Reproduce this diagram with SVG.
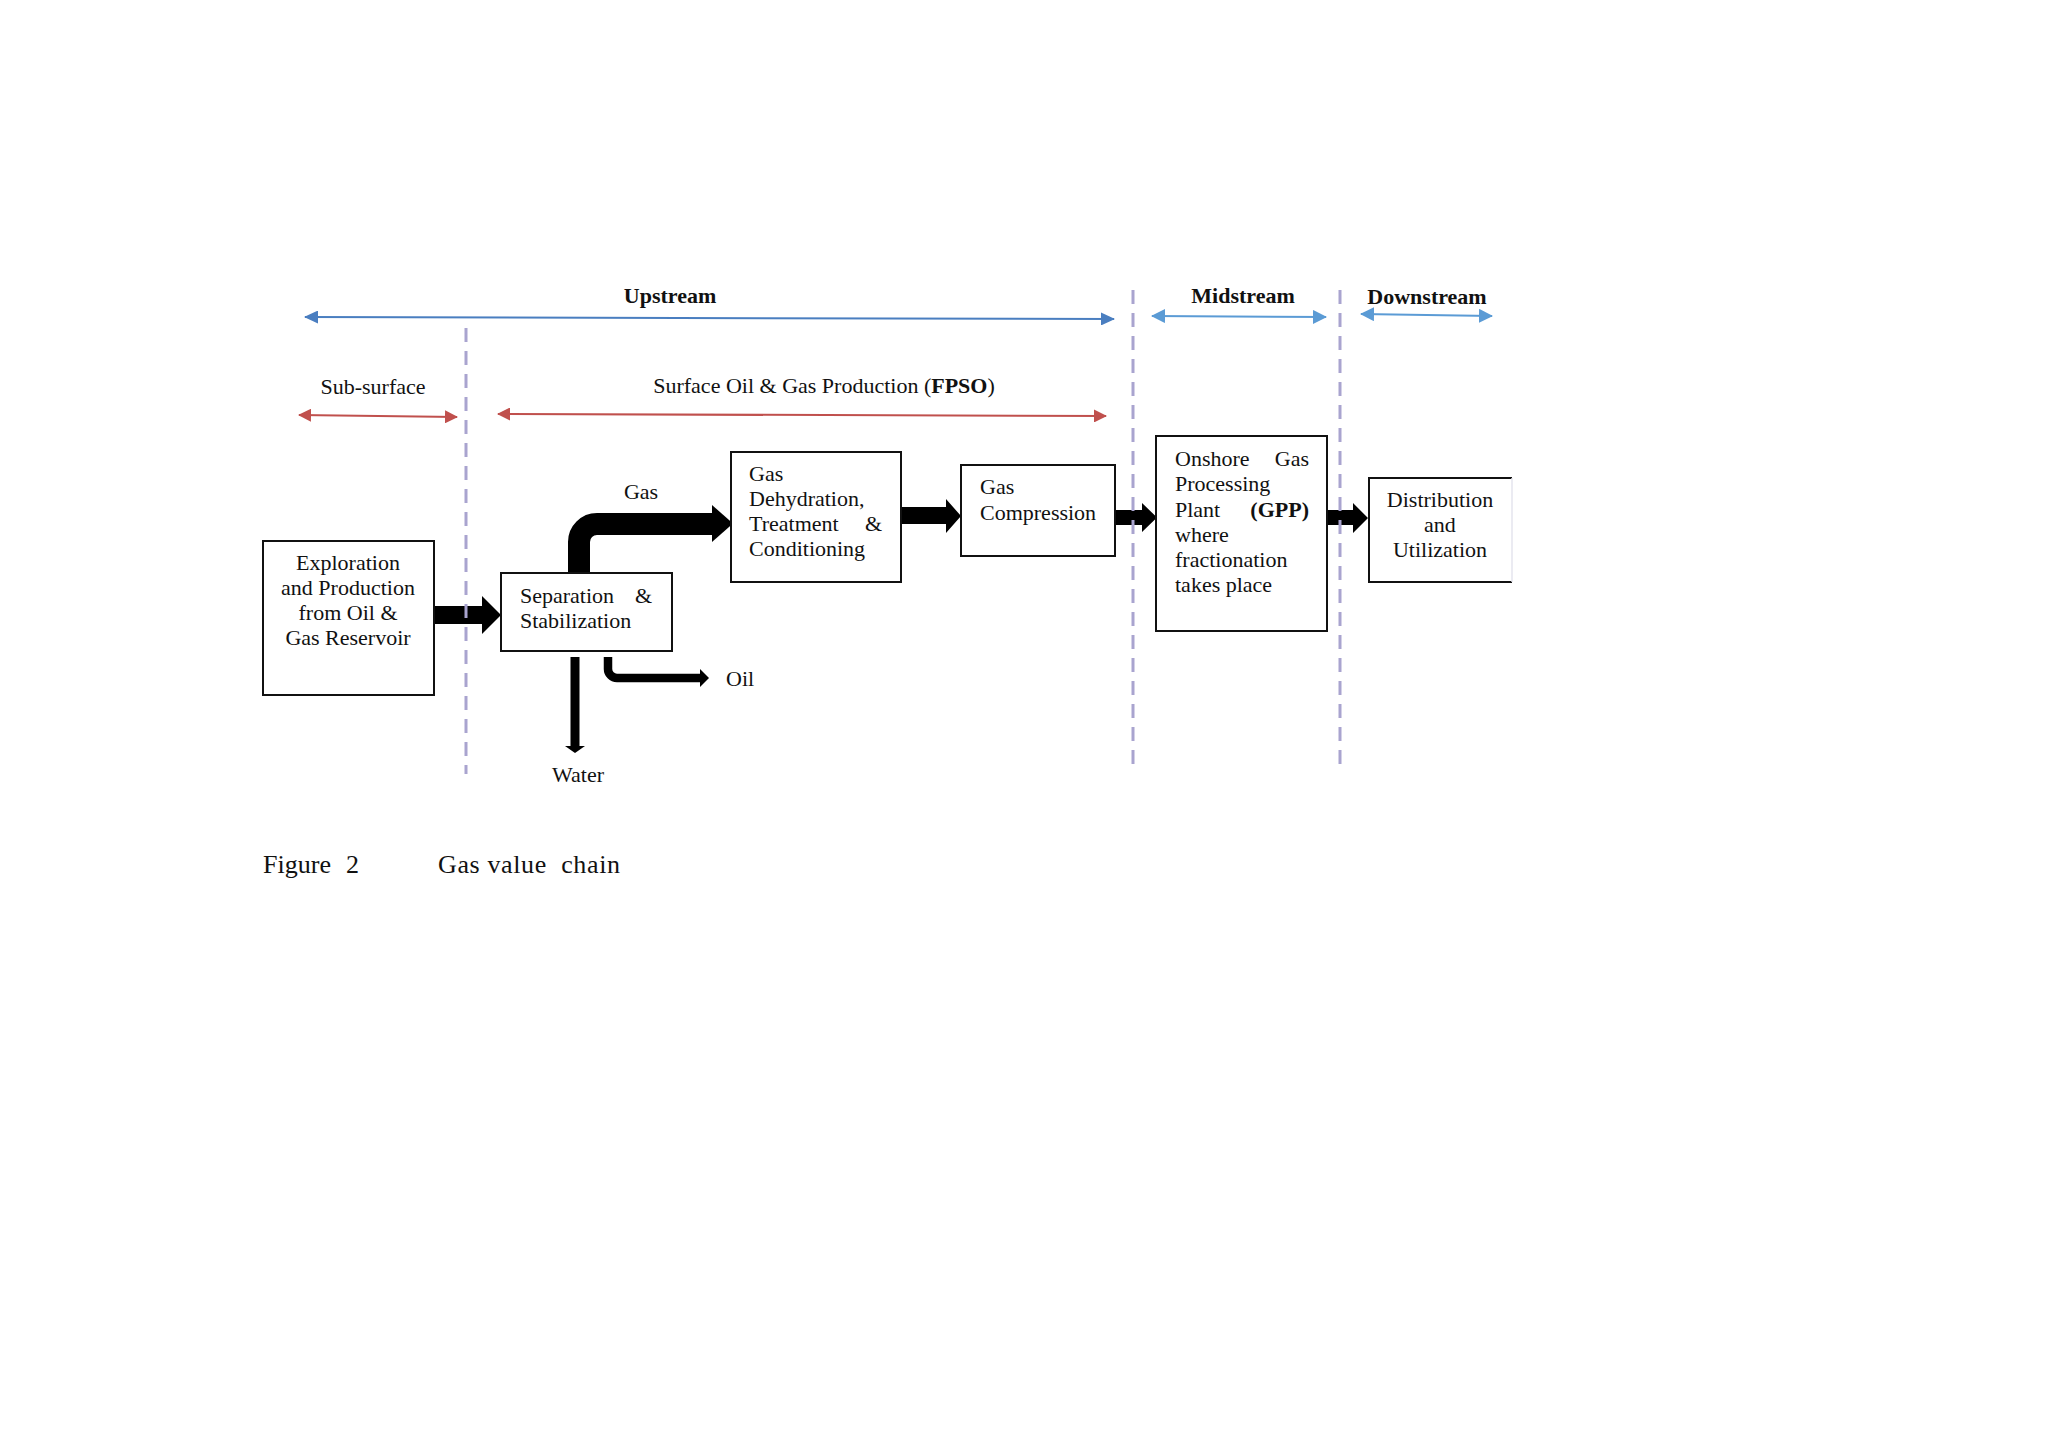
<svg xmlns="http://www.w3.org/2000/svg" width="2048" height="1448" viewBox="0 0 2048 1448">
<defs>
<style>
.t{font-family:"Liberation Serif","Times New Roman",serif;font-size:22px;fill:#111}
.b{font-weight:bold}
.cap{font-size:26px}
.box{fill:#fff;stroke:#111;stroke-width:2}
.blk{fill:#000}
.dash{stroke:#a9a4cf;stroke-width:3;stroke-dasharray:14 9;fill:none}
.blue1{stroke:#4a7ec0;stroke-width:2;fill:none}
.blue2{stroke:#5b9bd5;stroke-width:2;fill:none}
.red{stroke:#c0504d;stroke-width:2;fill:none}
</style>
<marker id="hb1" viewBox="0 0 14 13" refX="13" refY="6.5" markerWidth="14" markerHeight="13" markerUnits="userSpaceOnUse" orient="auto-start-reverse"><path d="M0,0 L14,6.5 L0,13 Z" fill="#4a7ec0"/></marker>
<marker id="hb2" viewBox="0 0 14 14" refX="13" refY="7" markerWidth="14" markerHeight="14" markerUnits="userSpaceOnUse" orient="auto-start-reverse"><path d="M0,0 L14,7 L0,14 Z" fill="#5b9bd5"/></marker>
<marker id="hr" viewBox="0 0 13 13" refX="12" refY="6.5" markerWidth="13" markerHeight="13" markerUnits="userSpaceOnUse" orient="auto-start-reverse"><path d="M0,0 L13,6.5 L0,13 Z" fill="#c0504d"/></marker>
</defs>
<rect width="2048" height="1448" fill="#fff"/>

<g id="stage-labels">
<text class="t b" x="670" y="303" text-anchor="middle">Upstream</text>
<text class="t b" x="1243" y="303" text-anchor="middle">Midstream</text>
<text class="t b" x="1427" y="304" text-anchor="middle">Downstream</text>
<text class="t" x="373" y="394" text-anchor="middle">Sub-surface</text>
<text class="t" x="824" y="393" text-anchor="middle">Surface Oil &amp; Gas Production (<tspan class="b">FPSO</tspan>)</text>
</g>

<g id="range-arrows">
<line class="blue1" x1="305" y1="317" x2="1114" y2="319" marker-start="url(#hb1)" marker-end="url(#hb1)"/>
<line class="blue2" x1="1152" y1="316" x2="1326" y2="317" marker-start="url(#hb2)" marker-end="url(#hb2)"/>
<line class="blue2" x1="1361" y1="314" x2="1492" y2="316" marker-start="url(#hb2)" marker-end="url(#hb2)"/>
<line class="red" x1="299" y1="415" x2="457" y2="417" marker-start="url(#hr)" marker-end="url(#hr)"/>
<line class="red" x1="498" y1="414" x2="1106" y2="416" marker-start="url(#hr)" marker-end="url(#hr)"/>
</g>

<g id="connectors">
<polygon class="blk" points="432,606 482,606 482,596 501,615 482,634 482,624 432,624"/>
<path d="M579,573 V542 A18,18 0 0 1 597,524 H713" stroke="#000" stroke-width="22" fill="none"/>
<polygon class="blk" points="712,505 733,523.5 712,542"/>
<polygon class="blk" points="900,507 946,507 946,499 961,516 946,533 946,524 900,524"/>
<polygon class="blk" points="1115,510 1142,510 1142,503 1157,517.5 1142,532 1142,525 1115,525"/>
<polygon class="blk" points="1327,510 1353,510 1353,503 1368,518 1353,533 1353,525 1327,525"/>
<rect class="blk" x="570.5" y="657" width="9" height="90"/>
<polygon class="blk" points="565,746 585,746 575,753"/>
<path d="M608,657 V669 A9,9 0 0 0 617,678 H701" stroke="#000" stroke-width="8.5" fill="none"/>
<polygon class="blk" points="700,669 709,678 700,687"/>
</g>

<g id="node-exploration">
<rect class="box" x="263" y="541" width="171" height="154"/>
<text class="t" text-anchor="middle" x="348" y="570">Exploration</text>
<text class="t" text-anchor="middle" x="348" y="595">and Production</text>
<text class="t" text-anchor="middle" x="348" y="620">from Oil &amp;</text>
<text class="t" text-anchor="middle" x="348" y="645">Gas Reservoir</text>
</g>

<g id="node-separation">
<rect class="box" x="501" y="573" width="171" height="78"/>
<text class="t" x="520" y="603">Separation</text>
<text class="t" x="652" y="603" text-anchor="end">&amp;</text>
<text class="t" x="520" y="628">Stabilization</text>
</g>

<g id="node-dehydration">
<rect class="box" x="731" y="452" width="170" height="130"/>
<text class="t" x="749" y="481">Gas</text>
<text class="t" x="749" y="506">Dehydration,</text>
<text class="t" x="749" y="531">Treatment</text>
<text class="t" x="882" y="531" text-anchor="end">&amp;</text>
<text class="t" x="749" y="556">Conditioning</text>
</g>

<g id="node-compression">
<rect class="box" x="961" y="465" width="154" height="91"/>
<text class="t" x="980" y="494">Gas</text>
<text class="t" x="980" y="520">Compression</text>
</g>

<g id="node-gpp">
<rect class="box" x="1156" y="436" width="171" height="195"/>
<text class="t" x="1175" y="466">Onshore</text>
<text class="t" x="1309" y="466" text-anchor="end">Gas</text>
<text class="t" x="1175" y="491">Processing</text>
<text class="t" x="1175" y="517">Plant</text>
<text class="t b" x="1309" y="517" text-anchor="end">(GPP)</text>
<text class="t" x="1175" y="542">where</text>
<text class="t" x="1175" y="567">fractionation</text>
<text class="t" x="1175" y="592">takes place</text>
</g>

<g id="node-distribution">
<rect x="1369" y="478" width="143" height="104" fill="#fff"/>
<path d="M1512,478 H1369 V582 H1512" stroke="#111" stroke-width="2" fill="none"/>
<line x1="1512" y1="478" x2="1512" y2="582" stroke="#e4e4ee" stroke-width="1.5"/>
<text class="t" text-anchor="middle" x="1440" y="507">Distribution</text>
<text class="t" text-anchor="middle" x="1440" y="532">and</text>
<text class="t" text-anchor="middle" x="1440" y="557">Utilization</text>
</g>

<g id="flow-labels">
<text class="t" x="641" y="499" text-anchor="middle">Gas</text>
<text class="t" x="726" y="686">Oil</text>
<text class="t" x="578" y="782" text-anchor="middle">Water</text>
</g>

<g id="dividers">
<line class="dash" x1="466" y1="328" x2="466" y2="774"/>
<line class="dash" x1="1133" y1="290" x2="1133" y2="768"/>
<line class="dash" x1="1340" y1="290" x2="1340" y2="768"/>
</g>

<g id="caption">
<text class="t cap" x="263" y="873" textLength="68" lengthAdjust="spacingAndGlyphs">Figure</text>
<text class="t cap" x="346" y="873">2</text>
<text class="t cap" x="438" y="873" xml:space="preserve" textLength="182" lengthAdjust="spacing">Gas value  chain</text>
</g>
</svg>
